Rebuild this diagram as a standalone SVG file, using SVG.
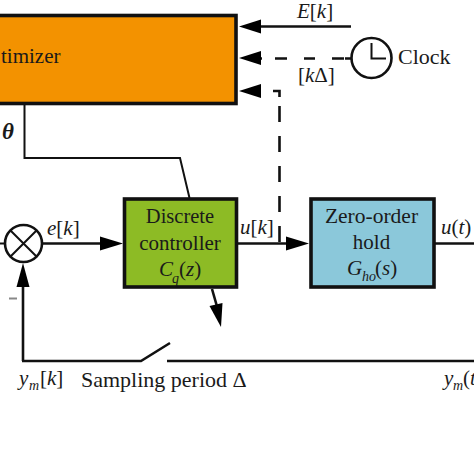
<svg xmlns="http://www.w3.org/2000/svg" width="474" height="474" viewBox="0 0 474 474">
<style>
text{font-family:"Liberation Serif","Times New Roman",serif;font-size:21px;fill:#1a1a1a}
.c{text-anchor:middle}
.i{font-style:italic}
.s{font-size:14px;font-style:italic}
.l{fill:none;stroke:#111;stroke-width:2}
.t{fill:none;stroke:#111;stroke-width:2.600}
.d{fill:none;stroke:#111;stroke-width:2.600}
.a{fill:#000}
.b{stroke:#111;stroke-width:3.600}
</style>
<rect width="474" height="474" fill="#fff"/>
<g id="connectors">
<path class="l" d="M24.500 105V158H180L189.500 198"/>
<path class="t" d="M351 26.500H258"/>
<polygon class="a" points="239,26.500 261,19.500 261,33.500"/>
<path class="d" d="M351 58.500H345M344 58.500H332M315 58.500H304M287 58.500H275M262 58.500H258"/>
<polygon class="a" points="239,58 261,51 261,65"/>
<path class="d" d="M279.500 242V226M279.500 212V196M279.500 182V166M279.500 152V136M279.500 122V106M279.500 97V91H273"/>
<polygon class="a" points="239,91 261,84 261,98"/>
<path class="t" d="M43 243.500H105"/>
<polygon class="a" points="123,243.500 100,236.500 100,250.500"/>
<path class="t" d="M237 243.500H290"/>
<polygon class="a" points="309,243.500 286,236.500 286,250.500"/>
<path class="t" d="M433 243.500H474"/>
<path class="l" d="M0 243.500H5"/>
<path class="t" d="M212 289L218 310"/>
<polygon class="a" points="221,327 209.500,306 222.500,303"/>
<path class="t" d="M23 361V280"/>
<polygon class="a" points="23,263 16.500,287 29.500,287"/>
<path class="t" d="M22 361H141L170 343"/>
<path class="t" d="M167 361H474"/>
<path d="M9 298.500H17" stroke="#888" stroke-width="2"/>
</g>
<g id="optimizer">
<rect class="b" x="-10" y="15.500" width="246" height="88" fill="#f39200"/>
<text x="1" y="63">timizer</text>
</g>
<g id="sum">
<circle cx="23.500" cy="243.500" r="18.500" fill="#fff" stroke="#111" stroke-width="2.600"/>
<path class="l" d="M10.500 230.500L36.500 256.500M36.500 230.500L10.500 256.500"/>
</g>
<g id="controller">
<rect class="b" x="124.500" y="199" width="112" height="88" fill="#8dbb25"/>
<text class="c" x="180" y="223" style="font-size:20.500px">Discrete</text>
<text class="c" x="180" y="250">controller</text>
<text x="159" y="276"><tspan class="i">C</tspan></text>
<text class="s" x="172" y="283">q</text>
<text x="179" y="276">(<tspan class="i">z</tspan>)</text>
</g>
<g id="hold">
<rect class="b" x="311" y="199" width="123" height="88" fill="#8bc8da"/>
<text class="c" x="371.500" y="223" style="font-size:21.500px">Zero-order</text>
<text class="c" x="371.500" y="249">hold</text>
<text x="347" y="275"><tspan class="i">G</tspan></text>
<text class="s" x="362" y="281">ho</text>
<text x="375" y="275">(<tspan class="i">s</tspan>)</text>
</g>
<g id="clock">
<circle cx="371.500" cy="58" r="20" fill="#fff" stroke="#111" stroke-width="2.600"/>
<path class="l" d="M371.500 43V58.500H386"/>
<text x="398" y="64" style="font-size:22px">Clock</text>
</g>
<g id="labels">
<text x="297" y="18"><tspan class="i">E</tspan>[<tspan class="i">k</tspan>]</text>
<text x="298" y="82">[<tspan class="i">k</tspan>Δ]</text>
<text x="2" y="139" font-weight="bold" class="i" style="font-size:23px">θ</text>
<text x="47" y="235"><tspan class="i">e</tspan>[<tspan class="i">k</tspan>]</text>
<text x="240" y="234"><tspan class="i">u</tspan>[<tspan class="i">k</tspan>]</text>
<text x="441" y="234"><tspan class="i">u</tspan>(<tspan class="i">t</tspan>)</text>
<text x="19" y="385"><tspan class="i">y</tspan></text>
<text class="s" x="29" y="390">m</text>
<text x="40" y="385">[<tspan class="i">k</tspan>]</text>
<text x="81" y="387" style="font-size:22px">Sampling period Δ</text>
<text x="444" y="385"><tspan class="i">y</tspan></text>
<text class="s" x="453" y="390">m</text>
<text x="463" y="385">(<tspan class="i">t</tspan>)</text>
</g>
</svg>
